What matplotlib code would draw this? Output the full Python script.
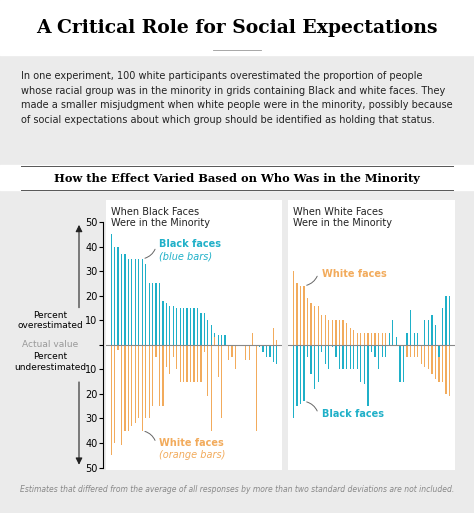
import matplotlib
matplotlib.use("Agg")
import matplotlib.pyplot as plt
import numpy as np

blue_left = [45,40,40,37,37,35,35,35,35,35,33,25,25,25,25,18,17,16,16,15,15,15,15,15,15,15,13,13,10,8,5,4,4,4,0,0,0,0,0,0,0,0,0,-1,-3,-5,-5,-7,-8]
orange_left = [-45,-40,-2,-41,-35,-35,-33,-32,-30,-35,-30,-30,-25,-5,-25,-25,-9,-12,-5,-10,-15,-15,-15,-15,-15,-15,-15,-3,-21,-35,3,-13,-30,0,-6,-5,-10,0,0,-6,-6,5,-35,0,0,0,0,7,2]
orange_right = [30,25,24,24,19,17,16,16,12,12,10,10,10,10,10,9,7,6,5,5,5,5,5,5,5,5,5,5,3,1,0,-5,-5,-5,-5,-5,-8,-9,-10,-12,-14,-15,-15,-20,-21]
blue_right = [-30,-25,-24,-23,-5,-12,-18,-15,-3,-8,-10,-1,-5,-10,-10,-10,-10,-10,-10,-15,-16,-25,-3,-5,-10,-5,-5,5,10,3,-15,-15,5,14,5,5,0,10,10,12,8,-5,15,20,20]
yticks = [50,40,30,20,10,0,-10,-20,-30,-40,-50]

BLUE = "#1fb0c8"; ORANGE = "#f2ab5c"; GRAY = "#ebebeb"
fig = plt.figure(figsize=(4.74,5.13), dpi=100, facecolor=GRAY)
W,H = 474,513
def fy(y): return 1-y/H
fig.patches.append(plt.Rectangle((0,fy(55)),1,55/H,transform=fig.transFigure,color="white",zorder=0))
fig.patches.append(plt.Rectangle((0,fy(190)),1,(190-165)/H,transform=fig.transFigure,color="white",zorder=0))
fig.text(0.5,fy(28),"A Critical Role for Social Expectations",ha="center",va="center",fontsize=13.5,fontweight="bold",family="DejaVu Serif")
fig.add_artist(plt.Line2D([0.45,0.55],[fy(50),fy(50)],color="#999",lw=0.6))
fig.text(0.045,fy(98),"In one experiment, 100 white participants overestimated the proportion of people\nwhose racial group was in the minority in grids containing Black and white faces. They\nmade a smaller misjudgment when white people were in the minority, possibly because\nof social expectations about which group should be identified as holding that status.",
         ha="left",va="center",fontsize=7.0,linespacing=1.55,color="#222")
fig.text(0.5,fy(178),"How the Effect Varied Based on Who Was in the Minority",ha="center",va="center",fontsize=8.2,fontweight="bold",family="DejaVu Serif")
fig.add_artist(plt.Line2D([0.045,0.955],[fy(190),fy(190)],color="#555",lw=0.7))
fig.add_artist(plt.Line2D([0.045,0.955],[fy(166),fy(166)],color="#555",lw=0.7))

def panel(x0,x1,up,down,upc,downc,title,left):
    ax = fig.add_axes([x0/W,fy(470),(x1-x0)/W,270/H])
    ax.set_facecolor("white")
    n=len(up); x=np.arange(n)
    ax.bar(x,up,width=0.35,color=upc)
    ax.bar(x,down,width=0.35,color=downc)
    ax.axhline(0,color="#888",lw=0.8)
    ax.set_ylim(-51,59); ax.set_xlim(-1.5,n+0.5)
    ax.set_xticks([])
    for s in ax.spines.values(): s.set_visible(False)
    ax.text(0.03,0.975,title,transform=ax.transAxes,va="top",fontsize=7,color="#222")
    if left:
        ax.spines["left"].set_visible(True); ax.spines["left"].set_bounds(-50,50)
        ax.spines["left"].set_position(("outward",2))
        ax.set_yticks(yticks); ax.set_yticklabels([str(abs(v)) if v else "" for v in yticks],fontsize=7)
        ax.tick_params(axis="y",length=3,pad=1)
        tr = matplotlib.transforms.blended_transform_factory(fig.transFigure, ax.transData)
        ax.text(50/W,0,"Actual value",transform=tr,ha="center",va="center",fontsize=6.5,color="#999")
        ax.text(50/W,6,"Percent\noverestimated",transform=tr,ha="center",va="bottom",fontsize=6.5)
        ax.text(50/W,-3,"Percent\nunderestimated",transform=tr,ha="center",va="top",fontsize=6.5)
        ax.annotate("",xy=(79/W,50),xytext=(79/W,14),xycoords=tr,arrowprops=dict(arrowstyle="-|>",color="#222",lw=0.8),annotation_clip=False)
        ax.annotate("",xy=(79/W,-50),xytext=(79/W,-14),xycoords=tr,arrowprops=dict(arrowstyle="-|>",color="#222",lw=0.8),annotation_clip=False)
        ax.annotate("",xy=(9,35),xytext=(13,40),arrowprops=dict(arrowstyle="-",color="#666",connectionstyle="arc3,rad=-0.3",lw=0.7))
        ax.text(14,41,"Black faces",color=BLUE,fontsize=7,fontweight="bold",va="center")
        ax.text(14,36,"(blue bars)",color=BLUE,fontsize=7,style="italic",va="center")
        ax.annotate("",xy=(9,-35),xytext=(13,-40),arrowprops=dict(arrowstyle="-",color="#666",connectionstyle="arc3,rad=0.3",lw=0.7))
        ax.text(14,-40,"White faces",color=ORANGE,fontsize=7,fontweight="bold",va="center")
        ax.text(14,-45,"(orange bars)",color=ORANGE,fontsize=7,style="italic",va="center")
    else:
        ax.set_yticks([])
        ax.annotate("",xy=(3,24),xytext=(7,29),arrowprops=dict(arrowstyle="-",color="#666",connectionstyle="arc3,rad=-0.3",lw=0.7))
        ax.text(8,29,"White faces",color=ORANGE,fontsize=7,fontweight="bold",va="center")
        ax.annotate("",xy=(3,-23),xytext=(7,-28),arrowprops=dict(arrowstyle="-",color="#666",connectionstyle="arc3,rad=0.3",lw=0.7))
        ax.text(8,-28,"Black faces",color=BLUE,fontsize=7,fontweight="bold",va="center")
    return ax

panel(106,282,blue_left,orange_left,BLUE,ORANGE,"When Black Faces\nWere in the Minority",True)
panel(288,455,orange_right,blue_right,ORANGE,BLUE,"When White Faces\nWere in the Minority",False)
fig.text(0.5,fy(490),"Estimates that differed from the average of all responses by more than two standard deviations are not included.",
         ha="center",va="center",fontsize=5.5,style="italic",color="#888")
fig.savefig("out.png",dpi=100,facecolor=GRAY)
